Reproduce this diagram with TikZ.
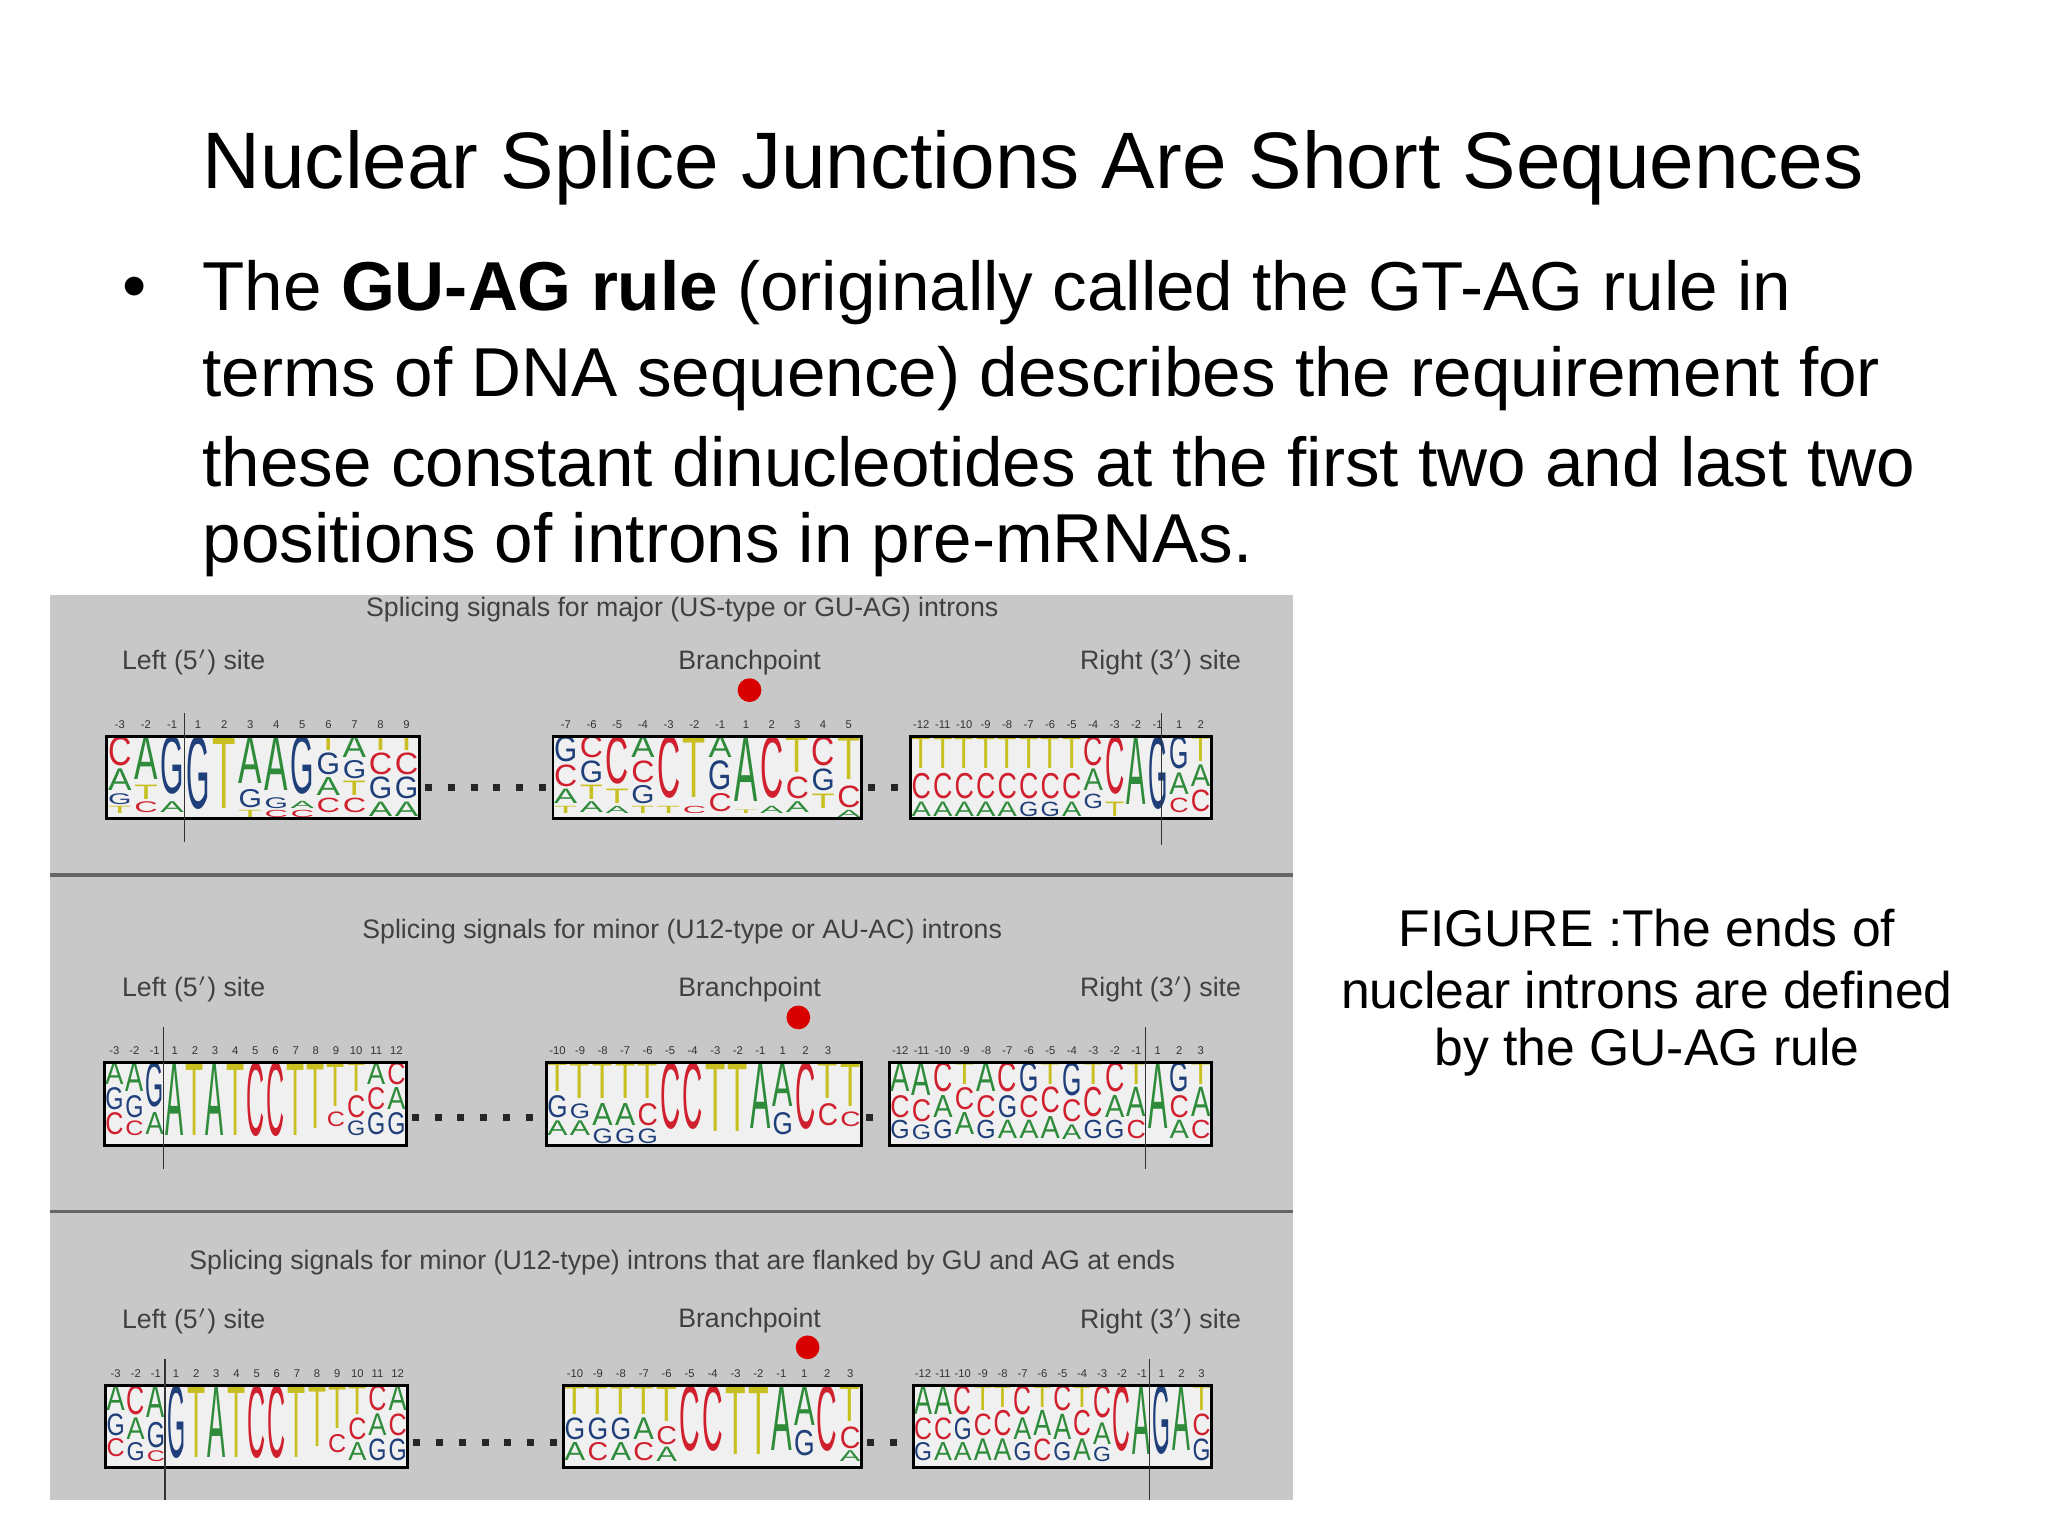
\documentclass[tikz,border=0pt]{standalone}
\usepackage{fontspec}
\setmainfont{Liberation Sans}
\usepackage{graphicx}
\definecolor{lA}{HTML}{2E8B3A}
\definecolor{lC}{HTML}{D0202E}
\definecolor{lG}{HTML}{1F3F7A}
\definecolor{lT}{HTML}{C8C020}
\definecolor{panel}{HTML}{C8C8C8}
\newcommand\seqlogo[7]{%
 \pgfmathsetmacro\cw{(#2-#1)/#5}%
 \fill[gray!12] (#1,#3) rectangle (#2,#4);
 \foreach \col [count=\i] in {#6}{%
   \xdef\cury{#3}%
   \foreach \lt/\hf in \col {%
     \pgfmathsetmacro\hh{\hf*(#4-#3)}%
     \pgfmathsetmacro\wcm{\cw*0.013196*0.9}%
     \pgfmathsetmacro\hcm{\hh*0.013196*0.88}%
     \pgfmathsetmacro\xx{#1+(\i-1)*\cw+0.05*\cw}%
     \node[inner sep=0pt,outer sep=0pt,anchor=north west] at (\xx,\cury) {\resizebox{\wcm cm}{\hcm cm}{\textcolor{l\lt}{\lt}}};
     \pgfmathsetmacro\tmp{\cury+\hh}%
     \xdef\cury{\tmp}%
   }%
 }%
 \foreach \n [count=\i] in {#7}{%
   \node[numst] at ({#1+(\i-0.5)*\cw},{#3-9}) {\n};
 }%
 \draw[line width=0.8pt] (#1,#3) rectangle (#2,#4);
}
\tikzset{
 numst/.style={font=\fontsize{3.2}{4}\selectfont,inner sep=0pt,text=black!80},
 hdr/.style={font=\fontsize{7.6}{9}\selectfont,text=black!75,inner sep=0pt},
 dotline/.style={line width=2pt,dash pattern=on 2pt off 4.5pt,black!85},
 body/.style={font=\fontsize{19.7}{24}\selectfont,anchor=west,inner sep=0pt},
 titletxt/.style={font=\fontsize{22.8}{27}\selectfont,anchor=west,inner sep=0pt},
 captxt/.style={font=\fontsize{14.7}{18}\selectfont,inner sep=0pt}
}
\begin{document}
\begin{tikzpicture}[x=0.013196cm,y=-0.013196cm]
\useasboundingbox (0,0) rectangle (1552,1164);
\fill[white] (0,0) rectangle (1552,1164);
\node[titletxt] (title) at (153,127) {Nuclear Splice Junctions Are Short Sequences};
\node[body] (bul) at (92,222) {•};
\node[body] (l1) at (153,222) {The \textbf{GU-AG rule} (originally called the GT-AG rule in};
\node[body] (l2) at (153,287) {terms of DNA sequence) describes the requirement for};
\node[body] (l3) at (153,350) {these constant dinucleotides at the first two and last two};
\node[body] (l4) at (153,413) {positions of introns in pre-mRNAs.};
\node[captxt] (c1) at (1248,703) {FIGURE :The ends of};
\node[captxt] (c2) at (1248,750) {nuclear introns are defined};
\node[captxt] (c3) at (1248,797) {by the GU-AG rule};
% panel
\fill[panel] (38,451) rectangle (980,1137);
\draw[black!60,line width=1pt] (38,663) -- (980,663);
\draw[black!60,line width=1pt] (38,918) -- (980,918);
% ---- panel 1
\node[hdr] (h1) at (517,462) {Splicing signals for major (US-type or GU-AG) introns};
\node[hdr,anchor=west] (a1) at (92,502) {Left (5$'$) site};
\node[hdr] (b1) at (568,502) {Branchpoint};
\node[hdr,anchor=east] (r1) at (941,502) {Right (3$'$) site};
\fill[red!85!black] (568,523) circle (9);
\draw[dotline] (322,597) -- (417,597);
\draw[dotline] (658,597) -- (688,597);
\seqlogo{81}{318}{558}{620}{12}{{C/.4,A/.3,G/.15,T/.1},{A/.6,T/.2,C/.15},{G/.8,A/.15},{G/1},{T/1},{A/.65,G/.25,T/.1},{A/.75,G/.15,C/.1},{G/.8,A/.1,C/.1},{T/.2,G/.3,A/.25,C/.2},{A/.3,G/.25,T/.2,C/.2},{T/.2,C/.3,G/.3,A/.2},{T/.2,C/.3,G/.3,A/.2}}{-3,-2,-1,1,2,3,4,5,6,7,8,9}
\seqlogo{419}{653}{558}{620}{12}{{G/.35,C/.3,A/.2,T/.1},{C/.3,G/.3,T/.2,A/.15},{C/.65,T/.2,A/.1},{A/.3,C/.3,G/.25,T/.1},{C/.85,T/.1},{T/.85,C/.1},{A/.3,G/.4,C/.25},{A/.9,T/.05},{C/.85,A/.1},{T/.5,C/.3,A/.15},{C/.4,G/.3,T/.2},{T/.6,C/.3,A/.1}}{-7,-6,-5,-4,-3,-2,-1,1,2,3,4,5}
\seqlogo{690}{918}{558}{620}{14}{{T/.45,C/.35,A/.2},{T/.45,C/.35,A/.2},{T/.45,C/.35,A/.2},{T/.45,C/.35,A/.2},{T/.45,C/.35,A/.2},{T/.45,C/.35,G/.2},{T/.45,C/.35,G/.2},{T/.45,C/.35,A/.2},{C/.4,A/.3,G/.2},{C/.8,T/.2},{A/.95},{G/1},{G/.45,A/.3,C/.2},{T/.35,A/.3,C/.3}}{-12,-11,-10,-9,-8,-7,-6,-5,-4,-3,-2,-1,1,2}
\draw[black!80] (140,540) -- (140,638);
\draw[black!80] (880,540) -- (880,640);
% ---- panel 2
\node[hdr] (h2) at (517,706) {Splicing signals for minor (U12-type or AU-AC) introns};
\node[hdr,anchor=west] (a2) at (92,750) {Left (5$'$) site};
\node[hdr] (b2) at (568,750) {Branchpoint};
\node[hdr,anchor=east] (r2) at (941,750) {Right (3$'$) site};
\fill[red!85!black] (605,771) circle (9);
\draw[dotline] (312,847) -- (412,847);
\draw[dotline] (656,847) -- (672,847);
\seqlogo{79}{308}{805}{868}{15}{{A/.3,G/.3,C/.3},{A/.4,G/.3,C/.2},{G/.6,A/.3},{A/1},{T/1},{A/1},{T/1},{C/1},{C/1},{T/1},{T/.9},{T/.6,C/.2},{T/.4,C/.3,G/.2},{A/.3,C/.3,G/.3},{C/.3,A/.3,G/.3}}{-3,-2,-1,1,2,3,4,5,6,7,8,9,10,11,12}
\seqlogo{414}{653}{805}{868}{14}{{T/.4,G/.3,A/.2},{T/.5,G/.2,A/.2},{T/.5,A/.3,G/.2},{T/.5,A/.3,G/.2},{T/.5,C/.3,G/.2},{C/.9},{C/.9},{T/.95},{T/.95},{A/.9},{A/.6,G/.3},{C/.9},{T/.5,C/.3},{T/.6,C/.2}}{-10,-9,-8,-7,-6,-5,-4,-3,-2,-1,1,2,3,}
\seqlogo{674}{918}{805}{868}{15}{{A/.4,C/.3,G/.25},{A/.45,C/.3,G/.2},{C/.4,A/.3,G/.25},{T/.3,C/.3,A/.3},{A/.4,C/.3,G/.25},{C/.4,G/.3,A/.25},{G/.4,C/.3,A/.25},{T/.3,C/.35,A/.3},{G/.45,C/.3,A/.2},{T/.3,C/.4,G/.25},{C/.4,A/.3,G/.25},{T/.3,A/.4,C/.25},{A/.9},{G/.4,C/.3,A/.25},{T/.3,A/.4,C/.25}}{-12,-11,-10,-9,-8,-7,-6,-5,-4,-3,-2,-1,1,2,3}
\draw[black!80] (124,778) -- (124,886);
\draw[black!80] (868,778) -- (868,886);
% ---- panel 3
\node[hdr] (h3) at (517,957) {Splicing signals for minor (U12-type) introns that are flanked by GU and AG at ends};
\node[hdr,anchor=west] (a3) at (92,1001) {Left (5$'$) site};
\node[hdr] (b3) at (568,1001) {Branchpoint};
\node[hdr,anchor=east] (r3) at (941,1001) {Right (3$'$) site};
\fill[red!85!black] (612,1021) circle (9);
\draw[dotline] (313,1093) -- (425,1093);
\draw[dotline] (657,1093) -- (690,1093);
\seqlogo{80}{309}{1050}{1112}{15}{{A/.35,G/.3,C/.25},{C/.4,A/.3,G/.25},{A/.45,G/.35,C/.15},{G/1},{T/1},{A/1},{T/1},{C/1},{C/1},{T/1},{T/.85},{T/.6,C/.25},{T/.4,C/.3,A/.25},{C/.35,A/.3,G/.3},{A/.35,C/.3,G/.3}}{-3,-2,-1,1,2,3,4,5,6,7,8,9,10,11,12}
\seqlogo{427}{653}{1050}{1112}{13}{{T/.4,G/.3,A/.25},{T/.4,G/.3,C/.25},{T/.4,G/.3,A/.25},{T/.4,A/.3,C/.25},{T/.5,C/.25,A/.2},{C/.9},{C/.9},{T/.95},{T/.95},{A/.9},{A/.55,G/.35},{C/.9},{T/.5,C/.3,A/.15}}{-10,-9,-8,-7,-6,-5,-4,-3,-2,-1,1,2,3}
\seqlogo{692}{918}{1050}{1112}{15}{{A/.4,C/.3,G/.25},{A/.4,C/.3,A/.25},{C/.4,G/.3,A/.25},{T/.35,C/.3,A/.3},{T/.3,C/.35,A/.3},{C/.4,A/.3,G/.25},{T/.3,A/.35,C/.3},{C/.35,A/.35,G/.25},{T/.3,C/.35,A/.3},{C/.45,A/.3,G/.2},{C/.9},{A/.95},{G/.95},{A/.9},{T/.35,C/.3,G/.3}}{-12,-11,-10,-9,-8,-7,-6,-5,-4,-3,-2,-1,1,2,3}
\draw[black!80] (125,1030) -- (125,1137);
\draw[black!80] (871,1030) -- (871,1137);
\end{tikzpicture}
\end{document}
